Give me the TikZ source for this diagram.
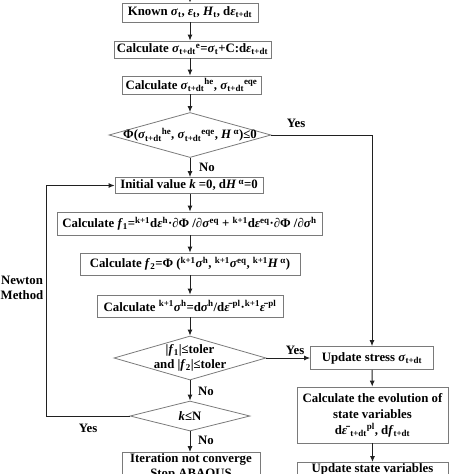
\documentclass[tikz,border=0pt]{standalone}
\usepackage{fontspec}
\setmainfont{Liberation Serif}
\usetikzlibrary{arrows.meta,shapes.geometric}
\newcommand{\lo}[1]{\textsubscript{#1}}
\newcommand{\hi}[1]{\textsuperscript{#1}}
\newcommand{\gs}{\textit{σ}}
\newcommand{\veps}{\textit{ε}}
\newcommand{\beps}{\textit{ε̄}}
\definecolor{boxgray}{HTML}{7A7A7A}
\definecolor{linegray}{HTML}{202020}
\begin{document}
\begin{tikzpicture}[x=1pt,y=-1pt,
  every node/.style={font=\fontsize{12.8}{15}\selectfont\bfseries},
  box/.style={draw=boxgray, line width=0.8pt, inner sep=1pt, align=center},
  dia/.style={draw=boxgray, shape=diamond, inner sep=0pt, line width=0.8pt},
  arr/.style={draw=linegray, line width=0.9pt, -{Latex[length=6pt,width=5pt]}},
  lbl/.style={inner sep=0pt}]
\useasboundingbox (0,0) rectangle (474,474);
\clip (0,0) rectangle (474,474);
\coordinate (start) at (190,0);
\node[box,minimum width=136pt,minimum height=19pt] (n1) at (190,12.5)
  {Known \gs\lo{t}, \veps\lo{t}, \textit{H}\lo{t}, d\veps\lo{t+dt}};
\node[box,minimum width=157pt,minimum height=17pt] (n2) at (192.5,49.5)
  {Calculate \gs\lo{t+dt}\hi{e}=\gs\lo{t}+C:d\veps\lo{t+dt}};
\node[box,minimum width=139pt,minimum height=18pt] (n3) at (191.5,85)
  {Calculate \gs\lo{t+dt}\hi{he}, \gs\lo{t+dt}\hi{eqe}};
\node[dia,minimum width=162pt,minimum height=45pt,
  label={[lbl]center:Φ(\gs\lo{t+dt}\hi{he}, \gs\lo{t+dt}\hi{eqe}, \textit{H}\,\hi{α})≤0}] (d1) at (190,135) {};
\node[box,minimum width=148pt,minimum height=16pt] (n5) at (189,185.5)
  {Initial value \textit{k} =0, d\textit{H}\,\hi{α}=0};
\node[box,minimum width=265pt,minimum height=23pt] (n6) at (189.5,223.5)
  {Calculate \textit{f}\lo{1}=\hi{k+1}d\veps\hi{h}·∂Φ /∂\gs\hi{eq} + \hi{k+1}d\veps\hi{eq}·∂Φ /∂\gs\hi{h}};
\node[box,minimum width=220pt,minimum height=22pt] (n7) at (190,264)
  {Calculate \textit{f}\lo{2}=Φ (\hi{k+1}\gs\hi{h}, \hi{k+1}\gs\hi{eq}, \hi{k+1}\textit{H}\,\hi{α})};
\node[box,minimum width=186pt,minimum height=22pt] (n8) at (190,306)
  {Calculate \hi{k+1}\gs\hi{h}=d\gs\hi{h}/d\beps\hi{pl}·\hi{k+1}\beps\hi{pl}};
\node[dia,minimum width=152pt,minimum height=44pt,
  label={[lbl,align=center]center:|\textit{f}\lo{1}|≤toler\\and |\textit{f}\lo{2}|≤toler}] (d2) at (190,358) {};
\node[dia,minimum width=120pt,minimum height=30pt,
  label={[lbl]center:\textit{k}≤N}] (d3) at (190,416) {};
\node[box,anchor=north,minimum width=138pt,inner ysep=1.5pt,text depth=22pt] (n11) at (191,452)
  {Iteration not converge\\Stop ABAQUS};
\node[box,minimum width=123pt,minimum height=23pt] (n12) at (372,358)
  {Update stress \gs\lo{t+dt}};
\node[box,minimum width=151pt,minimum height=56pt,font=\fontsize{12.8}{16}\selectfont\bfseries] (n13) at (372.5,415)
  {Calculate the evolution of\\state variables\\d\beps\lo{t+dt}\hi{pl}, d\textit{f}\lo{t+dt}};
\node[box,anchor=north,minimum width=151pt,inner ysep=1.5pt,text depth=22pt] (n14) at (372.5,462)
  {Update state variables};
% connectors
\draw[arr] (start) -- (n1);
\draw[arr] (n1) -- (n2.north -| n1);
\draw[arr] (n2.south -| n1) -- (n3.north -| n1);
\draw[arr] (n3.south -| d1) -- (d1.north);
\draw[arr] (d1.south) -- (n5.north -| d1);
\draw[arr] (n5.south -| d1) -- (n6.north -| d1);
\draw[arr] (n6.south -| d1) -- (n7.north -| d1);
\draw[arr] (n7.south -| d1) -- (n8.north -| d1);
\draw[arr] (n8.south -| d1) -- (d2.north);
\draw[arr] (d2.south) -- (d3.north);
\draw[arr] (d3.south) -- (n11.north -| d3);
\draw[arr] (d1.east) -| (n12.north);
\draw[arr] (d2.east) -- (n12.west);
\draw[arr] (n12) -- (n13);
\draw[arr] (n13) -- (n14);
\draw[arr] (d3.west) -- ++(-83,0) |- (n5.west);
% labels
\node[lbl] (yes1) at (296,123) {Yes};
\node[lbl] (no1) at (207,167) {No};
\node[lbl] (yes2) at (295,350) {Yes};
\node[lbl] (no2) at (206,391) {No};
\node[lbl] (yes3) at (88,428) {Yes};
\node[lbl] (no3) at (206,440) {No};
\node[lbl,align=center] (newton) at (22,288) {Newton\\Method};
\end{tikzpicture}
\end{document}
